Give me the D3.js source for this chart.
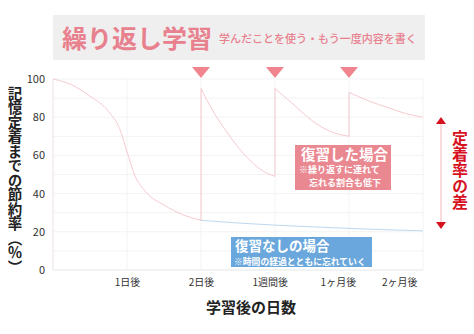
<!DOCTYPE html>
<html><head><meta charset="utf-8">
<script src="https://cdn.jsdelivr.net/npm/d3@7"></script>
<style>
html,body{margin:0;padding:0;background:#fff;}
svg{display:block;font-family:"Noto Sans CJK JP","Noto Sans",sans-serif;}
</style></head>
<body>
<svg id="c" width="474" height="334"></svg>
<script>
// ---- data ----
const yTicks = [0, 20, 40, 60, 80, 100];
const yGrid = [10, 20, 30, 40, 50, 60, 70, 80, 90, 100];
const xGrid = [1, 2, 3, 4, 5];
const xTickLabels = ["1日後", "2日後", "1週間後", "1ヶ月後", "2ヶ月後"];
const xTickValues = [1, 2, 2.93, 3.85, 4.68];
// forgetting curve without review
const forgetT = [0, 0.25, 0.5, 0.75, 0.9, 1.0, 1.1, 1.25, 1.5, 1.75, 2.0];
const forgetV = [100, 97, 91, 83, 74, 62, 50, 41, 34, 29, 26];
const forgetLaterT = [2, 2.5, 3, 3.5, 4, 4.5, 5];
const forgetLaterV = [26, 24.6, 23.5, 22.6, 21.8, 21.1, 20.5];
// with review (three decays after each review)
const review1T = [2, 2.15, 2.39, 2.62, 2.83, 3.0];
const review1V = [95, 84, 70, 59, 52, 49];
const review2T = [3, 3.27, 3.49, 3.72, 4.0];
const review2V = [95, 86, 78.5, 73, 70];
const review3T = [4, 4.3, 4.53, 4.76, 5.0];
const review3V = [93, 88, 85, 82, 80];
const reviewPoints = [2, 3, 4];
const reviewJumpFrom = [26, 49, 70];
const reviewJumpTo = [95, 95, 93];

const svg = d3.select("#c");
const x = d3.scaleLinear().domain([0, 5]).range([53, 423]);
const y = d3.scaleLinear().domain([0, 100]).range([270, 79]);

// title box
svg.append("rect").attr("x", 53).attr("y", 15).attr("width", 372).attr("height", 45).attr("fill", "#efefef");
svg.append("text").attr("x", 62).attr("y", 48).attr("font-size", 25).attr("font-weight", "bold")
  .attr("fill", "#e8808d").text("繰り返し学習");
svg.append("text").attr("x", 219).attr("y", 43).attr("font-size", 11).attr("font-weight", 500)
  .attr("fill", "#e8808d").text("学んだことを使う・もう一度内容を書く");

// grid
svg.append("g").selectAll("line").data(yGrid).join("line")
  .attr("x1", x(0)).attr("x2", x(5)).attr("y1", d => y(d)).attr("y2", d => y(d))
  .attr("stroke", "#f3f3f3").attr("stroke-width", 1);
svg.append("g").selectAll("line").data(xGrid).join("line")
  .attr("x1", d => x(d)).attr("x2", d => x(d)).attr("y1", y(0)).attr("y2", y(100))
  .attr("stroke", "#f3f3f3").attr("stroke-width", 1);
// axes lines
svg.append("line").attr("x1", x(0)).attr("x2", x(0)).attr("y1", y(0)).attr("y2", y(100))
  .attr("stroke", "#ebe3e4");
svg.append("line").attr("x1", x(0)).attr("x2", x(5)).attr("y1", y(0)).attr("y2", y(0))
  .attr("stroke", "#e6e6e6");

// y ticks
const yAxis = d3.axisLeft(y).tickValues(yTicks).tickSize(0).tickPadding(8);
const gy = svg.append("g").attr("transform", `translate(${x(0)},0)`).call(yAxis);
gy.select(".domain").remove();
gy.selectAll("text").attr("font-size", 11).attr("fill", "#333").attr("font-family", "Noto Sans CJK JP");

// x ticks
const xAxis = d3.axisBottom(x).tickValues(xTickValues).tickFormat((d, i) => xTickLabels[i]).tickSize(0).tickPadding(9);
const gx = svg.append("g").attr("transform", `translate(0,${y(0)})`).call(xAxis);
gx.select(".domain").remove();
gx.selectAll("text").attr("font-size", 10).attr("fill", "#333").attr("font-family", "Noto Sans CJK JP");

// axis titles
svg.append("text").attr("x", 251).attr("y", 313).attr("text-anchor", "middle")
  .attr("font-size", 15).attr("font-weight", "bold").attr("fill", "#222").text("学習後の日数");
svg.append("text").attr("x", 15).attr("y", 86).attr("font-size", 14.5).attr("font-weight", "bold")
  .attr("fill", "#222").style("writing-mode", "vertical-rl").text("記憶定着までの節約率（％）");

// lines
const line = d3.line().x(d => x(d[0])).y(d => y(d[1])).curve(d3.curveMonotoneX);
const zip = (a, b) => a.map((v, i) => [v, b[i]]);
const pinkLine = "#f4c4ca";
svg.append("path").attr("d", line(zip(forgetT, forgetV))).attr("fill", "none")
  .attr("stroke", pinkLine).attr("stroke-width", 0.9);
svg.append("path").attr("d", line(zip(forgetLaterT, forgetLaterV))).attr("fill", "none")
  .attr("stroke", "#b7d2ec").attr("stroke-width", 0.9);
[[review1T, review1V], [review2T, review2V], [review3T, review3V]].forEach(([t, v]) => {
  svg.append("path").attr("d", line(zip(t, v))).attr("fill", "none")
    .attr("stroke", pinkLine).attr("stroke-width", 0.9);
});
svg.append("g").selectAll("line").data(reviewPoints).join("line")
  .attr("x1", d => x(d)).attr("x2", d => x(d))
  .attr("y1", (d, i) => y(reviewJumpFrom[i])).attr("y2", (d, i) => y(reviewJumpTo[i]))
  .attr("stroke", pinkLine).attr("stroke-width", 0.9);

// review markers
svg.append("g").selectAll("path").data(reviewPoints).join("path")
  .attr("d", d => `M${x(d) - 9},67 L${x(d) + 9},67 L${x(d)},78 Z`)
  .attr("fill", "#f0858f");

// legend boxes
svg.append("rect").attr("x", 295).attr("y", 145).attr("width", 96).attr("height", 45).attr("fill", "#ea8891");
svg.append("text").attr("x", 301).attr("y", 160).attr("font-size", 14.5).attr("font-weight", "bold")
  .attr("fill", "#fff").text("復習した場合");
svg.append("text").attr("x", 299).attr("y", 172.5).attr("font-size", 9).attr("font-weight", "bold")
  .attr("fill", "#fff").text("※繰り返すに連れて");
svg.append("text").attr("x", 309).attr("y", 185.5).attr("font-size", 9).attr("font-weight", "bold")
  .attr("fill", "#fff").text("忘れる割合も低下");

svg.append("rect").attr("x", 231).attr("y", 237).attr("width", 141).attr("height", 30).attr("fill", "#6aa7dc");
svg.append("text").attr("x", 235).attr("y", 251).attr("font-size", 13.5).attr("font-weight", "bold")
  .attr("fill", "#fff").text("復習なしの場合");
svg.append("text").attr("x", 234).attr("y", 264.5).attr("font-size", 8.8).attr("font-weight", "bold")
  .attr("fill", "#fff").text("※時間の経過とともに忘れていく");

// difference annotation
svg.append("line").attr("x1", 441).attr("x2", 441).attr("y1", 122).attr("y2", 224)
  .attr("stroke", "#f3c3c7").attr("stroke-width", 1.2);
svg.append("path").attr("d", "M441,117 L446,124 L436,124 Z").attr("fill", "#d7121f");
svg.append("path").attr("d", "M441,229 L446,222 L436,222 Z").attr("fill", "#d7121f");
svg.append("text").attr("x", 460).attr("y", 130).attr("font-size", 16).attr("font-weight", "bold")
  .attr("fill", "#d7121f").style("writing-mode", "vertical-rl").text("定着率の差");
</script>
</body></html>
